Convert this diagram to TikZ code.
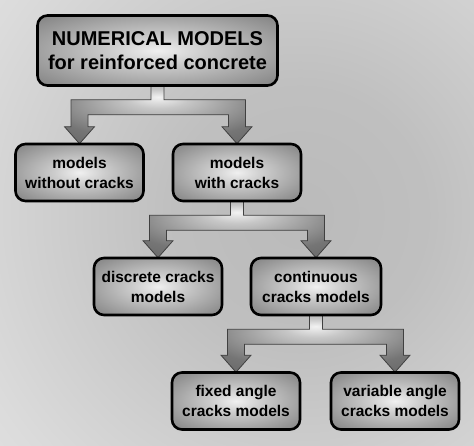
\documentclass[tikz,border=0pt]{standalone}
\usepackage{fontspec}
\setmainfont{Liberation Sans}
\usetikzlibrary{calc}
\pgfdeclarelayer{bg}
\pgfdeclarelayer{conn}
\pgfsetlayers{bg,conn,main}
\pgfdeclareradialshading{boxshade}{\pgfpoint{0bp}{0bp}}{%
  color(0bp)=(black!6); color(10bp)=(black!20); color(50bp)=(black!66); color(72bp)=(black!74)}
\pgfdeclareradialshading{bgshade}{\pgfpoint{0bp}{0bp}}{%
  color(0bp)=(black!27); color(8bp)=(black!25); color(22bp)=(black!14); color(32bp)=(black!8); color(50bp)=(black!4)}
\pgfdeclareradialshading{connshade}{\pgfpoint{0bp}{14bp}}{%
  color(0bp)=(black!5); color(8bp)=(black!22); color(30bp)=(black!54); color(50bp)=(black!64); color(75bp)=(black!68)}
\tikzset{
  box/.style={draw=black, line width=2.6pt, rounded corners=10pt, shading=boxshade,
    align=center, inner sep=0pt, minimum width=128pt, minimum height=57pt,
    font=\bfseries\fontsize{15.5}{20}\selectfont},
  topbox/.style={box, minimum width=240pt, minimum height=70pt,
    font=\bfseries\fontsize{20}{24}\selectfont},
  connector/.style={draw=black!75, line width=0.8pt, shading=connshade}
}
\newcommand{\branchto}[3]{%
  \path[connector] let \p1=(#1.south), \p2=(#2.north), \p3=(#3.north) in
    (\x1-6.5pt,\y1+3pt) -- (\x1-6.5pt,\y1-13pt) -- (\x2-8.5pt,\y1-13pt)
    -- (\x2-8.5pt,\y2+16pt) -- (\x2-15pt,\y2+16pt) -- (\x2,\y2-1pt)
    -- (\x2+15pt,\y2+16pt) -- (\x2+8.5pt,\y2+16pt) -- (\x2+8.5pt,\y1-28pt)
    -- (\x3-8.5pt,\y1-28pt) -- (\x3-8.5pt,\y3+16pt) -- (\x3-15pt,\y3+16pt)
    -- (\x3,\y3-1pt) -- (\x3+15pt,\y3+16pt) -- (\x3+8.5pt,\y3+16pt)
    -- (\x3+8.5pt,\y1-13pt) -- (\x1+6.5pt,\y1-13pt) -- (\x1+6.5pt,\y1+3pt) -- cycle;}
\begin{document}
\begin{tikzpicture}[x=1pt,y=-1pt]
\useasboundingbox (0,0) rectangle (474,445);
\begin{pgfonlayer}{bg}
  \begin{scope}
    \clip (0,0) rectangle (474,445);
    \path[shading=bgshade] (300,215) circle[radius=400pt];
  \end{scope}
\end{pgfonlayer}

\node[topbox] (num) at (157.5,50.5) {NUMERICAL MODELS\\for reinforced concrete};
\node[box] (without) at (79.5,172.5) {models\\without cracks};
\node[box] (with) at (237,172.5) {models\\with cracks};
\node[box] (discrete) at (158,286.5) {discrete cracks\\models};
\node[box, minimum width=130pt] (continuous) at (316,286.5) {continuous\\cracks models};
\node[box] (fixed) at (236,401) {fixed angle\\cracks models};
\node[box] (variable) at (395,401) {variable angle\\cracks models};

\begin{pgfonlayer}{conn}
  \branchto{num}{without}{with}
  \branchto{with}{discrete}{continuous}
  \branchto{continuous}{fixed}{variable}
\end{pgfonlayer}
\end{tikzpicture}
\end{document}
